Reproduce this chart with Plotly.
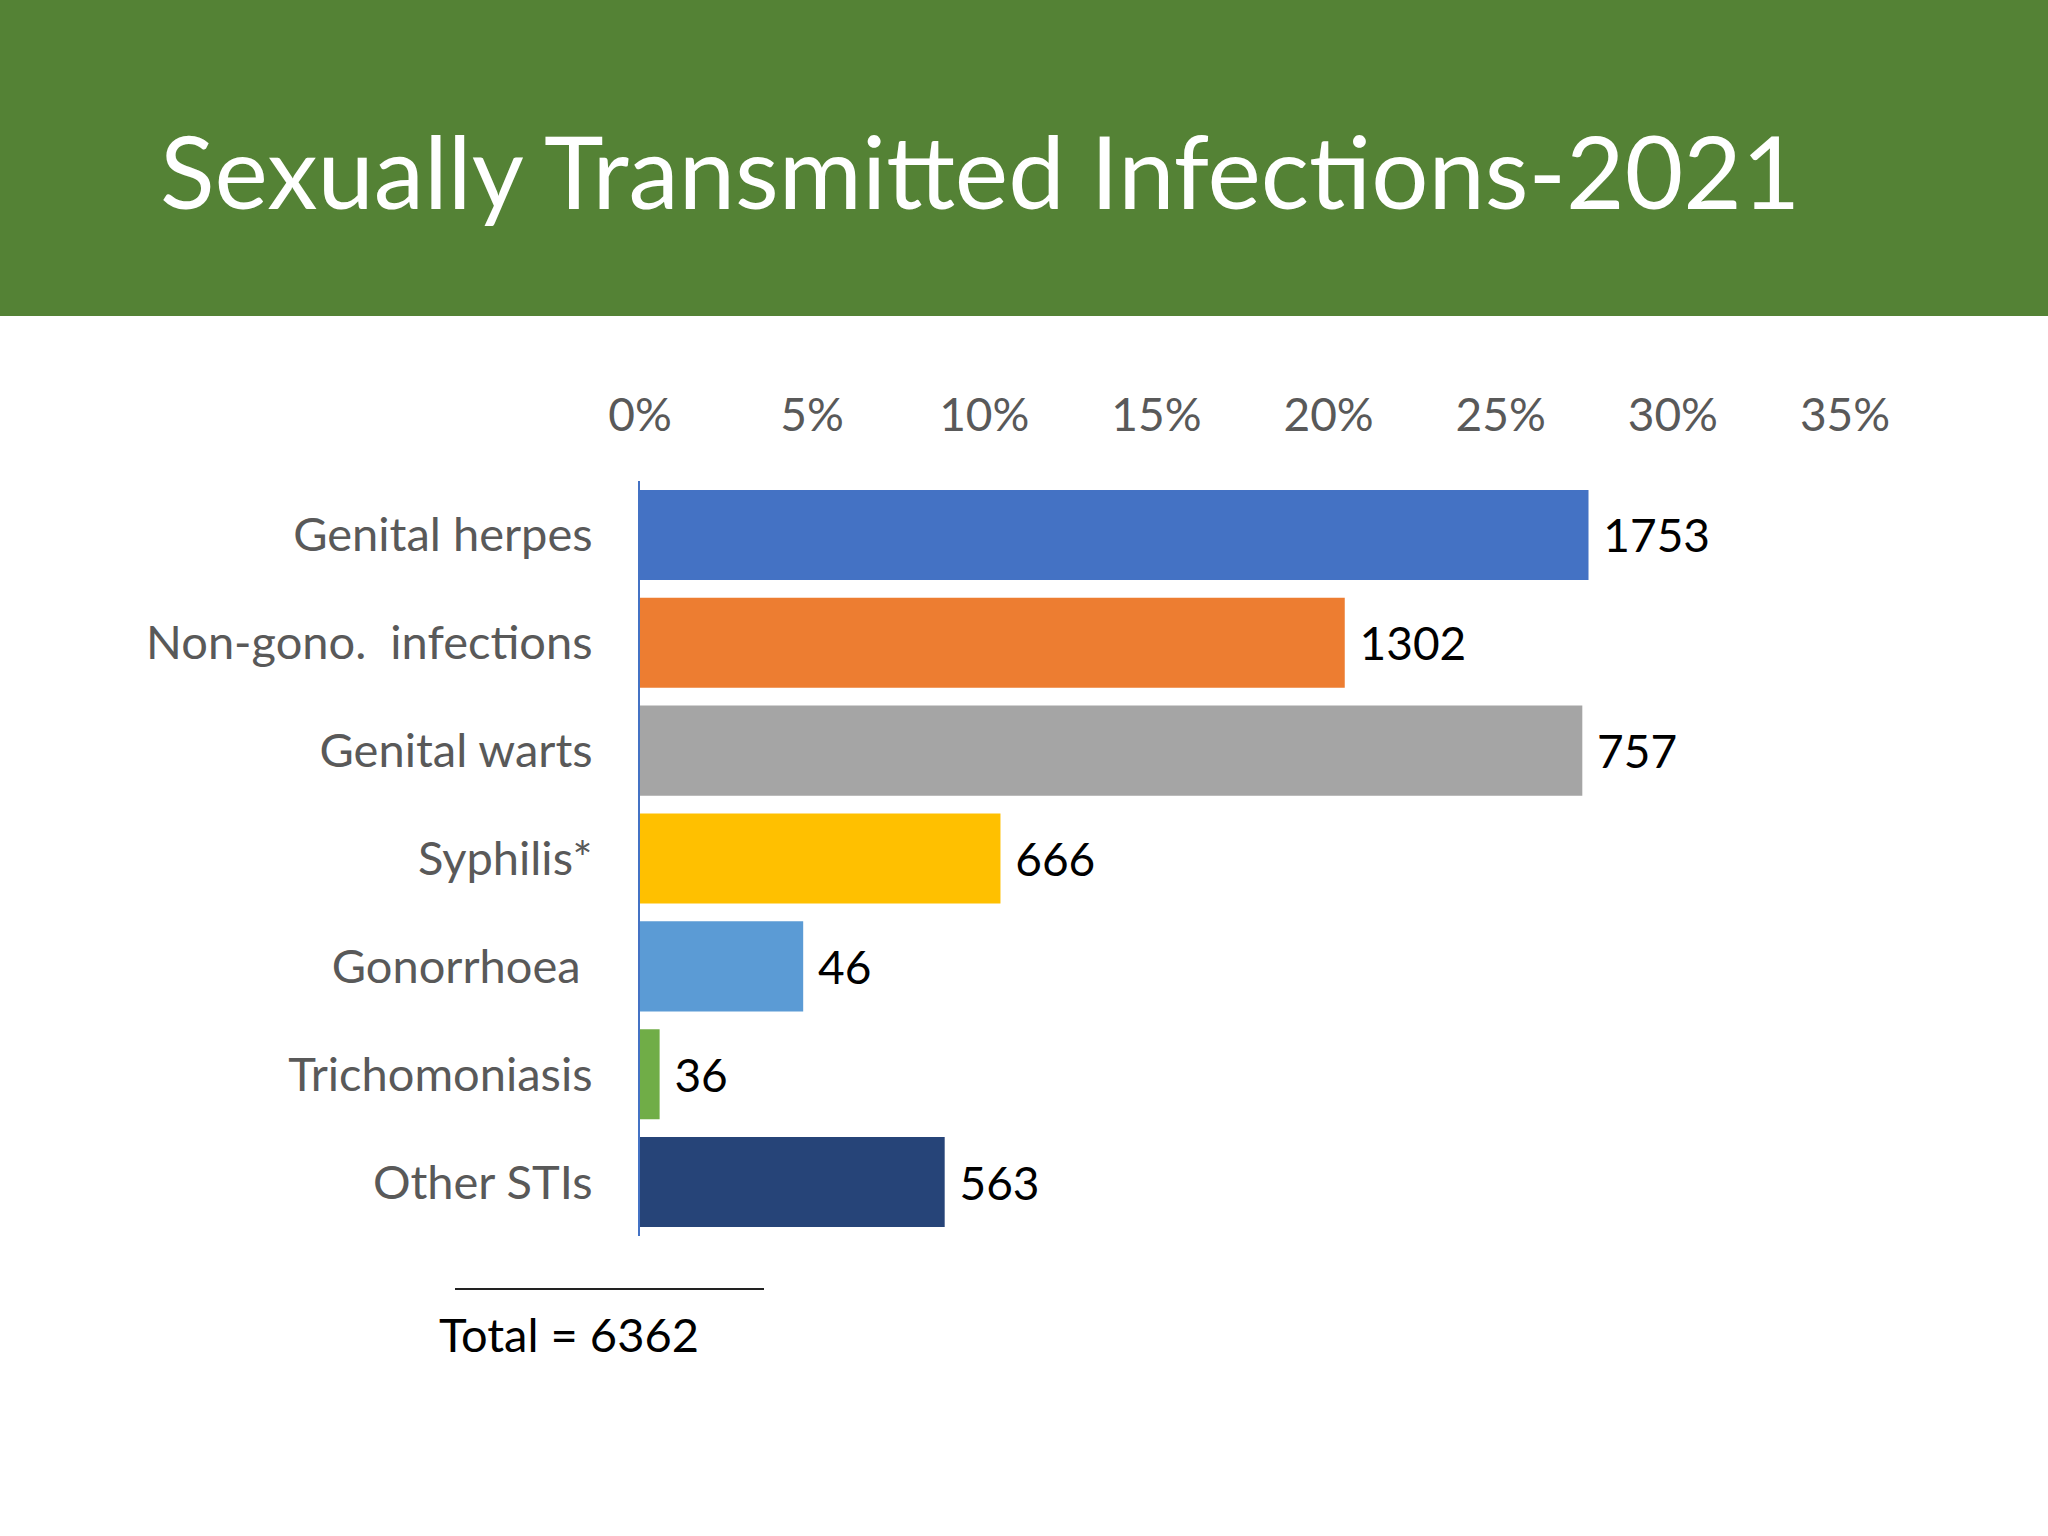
import plotly.graph_objects as go

W, H = 2048, 1536

categories = ["Genital herpes", "Non-gono.  infections", "Genital warts", "Syphilis*",
              "Gonorrhoea\u00a0", "Trichomoniasis", "Other STIs"]
percent_values = [27.55, 20.47, 27.37, 10.47, 4.74, 0.57, 8.85]
count_labels = ["1753", "1302", "757", "666", "46", "36", "563"]
bar_colors = ["#4472C4", "#ED7D31", "#A5A5A5", "#FFC000", "#5B9BD5", "#70AD47", "#264478"]
tick_values = [0, 5, 10, 15, 20, 25, 30, 35]
tick_labels = ["0%", "5%", "10%", "15%", "20%", "25%", "30%", "35%"]
title_text = "Sexually Transmitted Infections-2021"
total_text = "Total = 6362"

FONT = "Lato"
GRAY = "#595959"

fig = go.Figure()
fig.add_trace(go.Bar(
    y=categories,
    x=percent_values,
    orientation="h",
    marker=dict(color=bar_colors, line=dict(width=0)),
    text=["\u00a0" + t for t in count_labels],
    textposition="outside",
    textfont=dict(family=FONT, size=46, color="#000000"),
    cliponaxis=False,
    hoverinfo="skip",
))

def px(x):
    return x / W

def py(y):
    return 1 - y / H

fig.update_layout(
    width=W, height=H,
    autosize=False,
    margin=dict(l=0, r=0, t=0, b=0, pad=0),
    paper_bgcolor="white",
    plot_bgcolor="white",
    showlegend=False,
    bargap=0.165,
    xaxis=dict(
        domain=[px(640), px(1845)],
        range=[0, 35],
        side="top",
        tickvals=tick_values,
        ticktext=tick_labels,
        showgrid=False,
        zeroline=False,
        showline=False,
        ticks="",
        automargin=False,
        ticklabelstandoff=40,
        tickfont=dict(family=FONT, size=46, color=GRAY),
        fixedrange=True,
    ),
    yaxis=dict(
        domain=[py(1236), py(481)],
        autorange="reversed",
        showgrid=False,
        zeroline=False,
        showline=True,
        linecolor="#4472C4",
        linewidth=2,
        ticks="",
        automargin=False,
        ticklabelstandoff=36,
        tickfont=dict(family=FONT, size=47, color=GRAY),
        fixedrange=True,
    ),
    shapes=[
        dict(type="rect", xref="paper", yref="paper", x0=0, x1=1, y0=py(316), y1=1,
             fillcolor="#548235", line=dict(width=0), layer="below"),
        dict(type="line", xref="paper", yref="paper", x0=px(455), x1=px(764),
             y0=py(1289), y1=py(1289), line=dict(color="#222222", width=2)),
    ],
    annotations=[
        dict(text=title_text, xref="paper", yref="paper", x=px(158), y=py(170),
             xanchor="left", yanchor="middle", showarrow=False,
             font=dict(family=FONT, size=101, color="white")),
        dict(text=total_text, xref="paper", yref="paper", x=px(437), y=py(1334),
             xanchor="left", yanchor="middle", showarrow=False,
             font=dict(family=FONT, size=47, color="#000000")),
    ],
)

fig.write_html(
    "out.html",
    config={"responsive": False, "displayModeBar": False},
    post_script="document.documentElement.style.margin='0';document.body.style.margin='0';document.body.style.overflow='hidden';",
)
